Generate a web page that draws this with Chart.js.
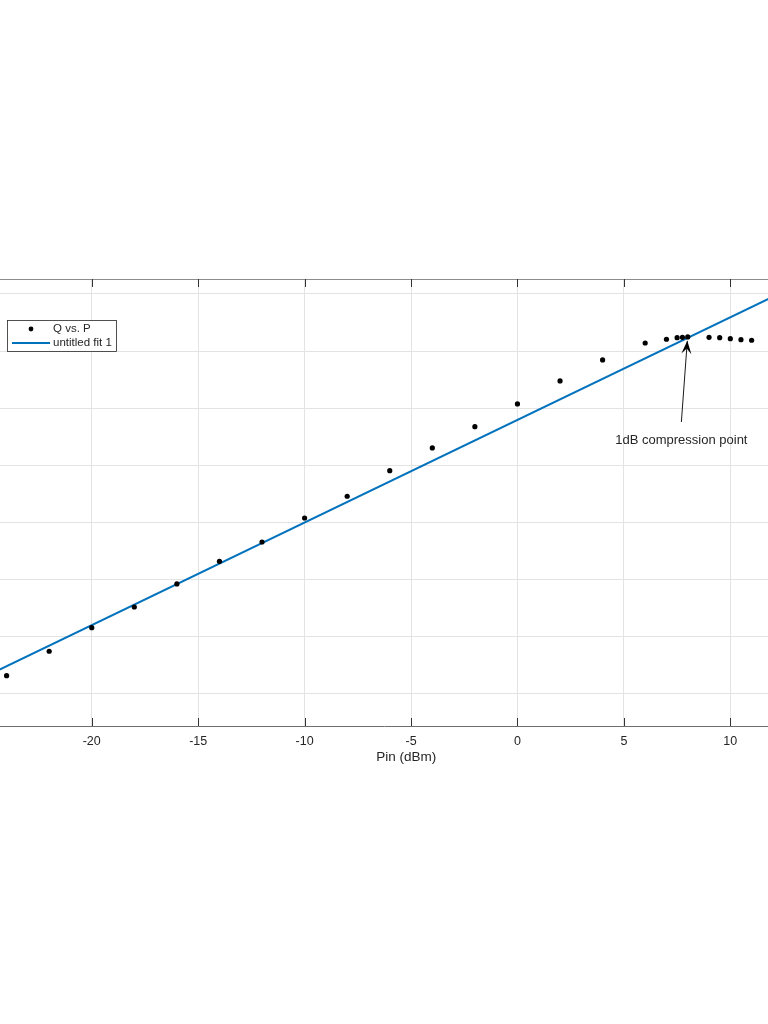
<!DOCTYPE html>
<html>
<head>
<meta charset="utf-8">
<script src="https://cdn.jsdelivr.net/npm/chart.js@4.4.1/dist/chart.umd.min.js"></script>
<style>
html,body{margin:0;padding:0;background:#fff;}
#wrap{position:absolute;left:0;top:0;width:768px;height:1024px;}
</style>
</head>
<body>
<div id="wrap"><canvas id="c" width="768" height="1024"></canvas></div>
<script>
// ---- data ----
const pinValues = [-24, -22, -20, -18, -16, -14, -12, -10, -8, -6, -4, -2, 0, 2, 4, 6, 7, 7.5, 7.75, 8, 9, 9.5, 10, 10.5, 11];
const qValues   = [1.60, 3.74, 5.80, 7.61, 9.63, 11.61, 13.30, 15.40, 17.30, 19.54, 21.53, 23.39, 25.38, 27.39, 29.23, 30.71, 31.04, 31.18, 31.21, 31.24, 31.21, 31.18, 31.09, 31.00, 30.95];
const fitPin = [-25, 12];
const fitQ   = [1.53, 34.75];
const xTickValues = [-20, -15, -10, -5, 0, 5, 10];
const yGridValues = [0, 5, 10, 15, 20, 25, 30, 35];
const xRange = [-24.31, 11.77];
const yRange = [-2.80, 36.31];
const seriesNames = ['Q vs. P', 'untitled fit 1'];
const xTitle = 'Pin (dBm)';
const annotationText = '1dB compression point';
const arrowTail = [7.70, 23.8];
const arrowHead = [7.98, 30.90];
const annotationAt = [7.70, 22.75];

const FONT = '"Liberation Sans", Arial, Helvetica, sans-serif';
const TXT = '#262626';
const BLUE = '#0072BD';

const decor = {
  id: 'decor',
  afterDraw(chart) {
    const ctx = chart.ctx, a = chart.chartArea, xs = chart.scales.x, ys = chart.scales.y;
    ctx.save();
    // top border
    ctx.strokeStyle = '#8c8c8c'; ctx.lineWidth = 1;
    ctx.beginPath(); ctx.moveTo(a.left, a.top + 0.5); ctx.lineTo(a.right, a.top + 0.5); ctx.stroke();
    // inward ticks top & bottom
    ctx.strokeStyle = '#333'; ctx.lineWidth = 1;
    xTickValues.forEach(v => {
      const px = Math.round(xs.getPixelForValue(v)) + 0.5;
      ctx.beginPath(); ctx.moveTo(px, a.top); ctx.lineTo(px, a.top + 8); ctx.stroke();
      ctx.beginPath(); ctx.moveTo(px, a.bottom); ctx.lineTo(px, a.bottom - 8); ctx.stroke();
    });
    // x title
    ctx.fillStyle = TXT; ctx.font = '13.5px ' + FONT;
    ctx.textAlign = 'center'; ctx.textBaseline = 'middle';
    ctx.fillText(xTitle, xs.getPixelForValue(-5.23), 757);
    // annotation arrow
    const tx = xs.getPixelForValue(arrowTail[0]), ty = ys.getPixelForValue(arrowTail[1]);
    const hx = xs.getPixelForValue(arrowHead[0]), hy = ys.getPixelForValue(arrowHead[1]);
    ctx.strokeStyle = '#000'; ctx.lineWidth = 0.9;
    ctx.beginPath(); ctx.moveTo(tx, ty); ctx.lineTo(hx, hy); ctx.stroke();
    const ang = Math.atan2(hy - ty, hx - tx);
    const L = 13, W = 5;
    const bx = hx - L * Math.cos(ang), by = hy - L * Math.sin(ang);
    const mx = hx - L * 0.6 * Math.cos(ang), my = hy - L * 0.6 * Math.sin(ang);
    ctx.fillStyle = '#000';
    ctx.beginPath();
    ctx.moveTo(hx, hy);
    ctx.lineTo(bx + W * Math.sin(ang), by - W * Math.cos(ang));
    ctx.lineTo(mx, my);
    ctx.lineTo(bx - W * Math.sin(ang), by + W * Math.cos(ang));
    ctx.closePath(); ctx.fill();
    ctx.font = '13px ' + FONT; ctx.fillStyle = TXT;
    ctx.textAlign = 'center'; ctx.textBaseline = 'top';
    ctx.fillText(annotationText, xs.getPixelForValue(annotationAt[0]), ys.getPixelForValue(annotationAt[1]));
    // legend
    const lx = 7.5, ly = 320.5, lw = 109, lh = 31;
    ctx.fillStyle = '#fff'; ctx.fillRect(lx, ly, lw, lh);
    ctx.strokeStyle = '#262626'; ctx.lineWidth = 0.8; ctx.strokeRect(lx, ly, lw, lh);
    ctx.fillStyle = '#000';
    ctx.beginPath(); ctx.arc(31, 329, 2.4, 0, Math.PI * 2); ctx.fill();
    ctx.strokeStyle = BLUE; ctx.lineWidth = 2;
    ctx.beginPath(); ctx.moveTo(12, 343); ctx.lineTo(50, 343); ctx.stroke();
    ctx.fillStyle = TXT; ctx.font = '11.5px ' + FONT; ctx.textAlign = 'left'; ctx.textBaseline = 'middle';
    ctx.fillText(seriesNames[0], 53, 329);
    ctx.fillText(seriesNames[1], 53, 343);
    ctx.restore();
  }
};

new Chart(document.getElementById('c'), {
  type: 'scatter',
  data: {
    datasets: [
      {
        label: seriesNames[1],
        type: 'line',
        data: fitPin.map((x, i) => ({ x, y: fitQ[i] })),
        borderColor: BLUE, borderWidth: 2, pointRadius: 0, fill: false, tension: 0, order: 2
      },
      {
        label: seriesNames[0],
        data: pinValues.map((x, i) => ({ x, y: qValues[i] })),
        backgroundColor: '#000', borderColor: '#000', pointRadius: 2.6, pointBorderWidth: 0, order: 1
      }
    ]
  },
  options: {
    responsive: false,
    animation: false,
    devicePixelRatio: 1,
    layout: { autoPadding: false, padding: { top: 279, left: 0, right: 0, bottom: 0 } },
    plugins: { legend: { display: false }, tooltip: { enabled: false } },
    scales: {
      x: {
        type: 'linear', min: xRange[0], max: xRange[1],
        afterBuildTicks: s => { s.ticks = xTickValues.map(v => ({ value: v })); },
        afterFit: s => { s.height = 1024 - 726; },
        grid: { color: '#e3e3e3', drawTicks: false, lineWidth: 1 },
        border: { display: true, color: '#6e6e6e', width: 1 },
        ticks: { color: TXT, font: { family: FONT, size: 12.5 }, padding: 8, maxRotation: 0, autoSkip: false }
      },
      y: {
        type: 'linear', min: yRange[0], max: yRange[1],
        afterBuildTicks: s => { s.ticks = yGridValues.map(v => ({ value: v })); },
        afterFit: s => { s.width = 0; },
        grid: { color: '#e3e3e3', drawTicks: false, lineWidth: 1 },
        border: { display: false },
        ticks: { display: false }
      }
    }
  },
  plugins: [decor]
});
</script>
</body>
</html>
